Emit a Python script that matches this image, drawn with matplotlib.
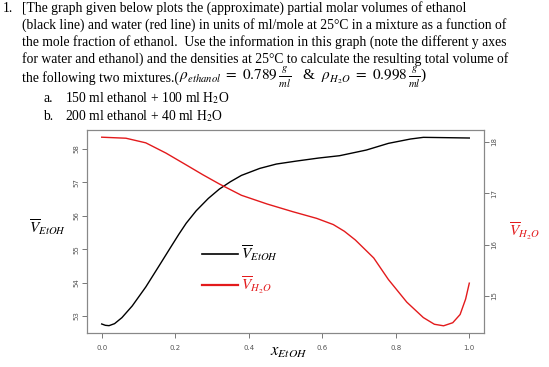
import matplotlib
matplotlib.use("Agg")
import matplotlib.pyplot as plt
from matplotlib.lines import Line2D

plt.rcParams["mathtext.fontset"] = "stix"
plt.rcParams["font.family"] = ["Liberation Serif", "DejaVu Serif"]

# values
x_etoh = [0.00, 0.01, 0.02, 0.035, 0.055, 0.083, 0.12, 0.156, 0.19, 0.21, 0.23,
          0.257, 0.29, 0.32, 0.35, 0.38, 0.43, 0.475, 0.53, 0.59, 0.647,
          0.72, 0.78, 0.84, 0.875, 0.94, 1.00]
v_etoh = [52.76, 52.72, 52.71, 52.77, 52.95, 53.30, 53.87, 54.50, 55.10, 55.45, 55.78,
          56.15, 56.52, 56.80, 57.02, 57.21, 57.42, 57.55, 57.64, 57.73, 57.80,
          57.97, 58.17, 58.30, 58.35, 58.34, 58.33]

x_h2o = [0.00, 0.066, 0.12, 0.175, 0.23, 0.275, 0.32, 0.38, 0.45, 0.52,
         0.585, 0.63, 0.66, 0.69, 0.74, 0.78, 0.83, 0.875, 0.905, 0.93, 0.955,
         0.975, 0.99, 1.00]
v_h2o = [18.09, 18.07, 17.98, 17.78, 17.55, 17.36, 17.18, 16.96, 16.79, 16.64,
         16.51, 16.39, 16.26, 16.09, 15.74, 15.32, 14.88, 14.58, 14.45, 14.42, 14.48,
         14.64, 14.94, 15.25]

x_ticks = [0.0, 0.2, 0.4, 0.6, 0.8, 1.0]
left_ticks = [53, 54, 55, 56, 57, 58]
right_ticks = [15, 16, 17, 18]

header_lines = [
    "[The graph given below plots the (approximate) partial molar volumes of ethanol",
    "(black line) and water (red line) in units of ml/mole at 25\u00b0C in a mixture as a function of",
    "the mole fraction of ethanol.  Use the information in this graph (note the different y axes",
    "for water and ethanol) and the densities at 25\u00b0C to calculate the resulting total volume of",
    "the following two mixtures.(",
]
density_text = r"$\rho_{ethanol}\ =\ 0.789\,\frac{g}{ml}$   &  $\rho_{H_2O}\ =\ 0.998\,\frac{g}{ml}$)"
sub_items = [("a.", "150 ml ethanol + 100 ml H$_2$O"),
             ("b.", "200 ml ethanol + 40 ml H$_2$O")]

RED = "#e31a1c"
GREY = "#555555"
W, H = 549, 367
FS = 9.8

fig = plt.figure(figsize=(W / 100, H / 100), dpi=100)

# question text above the chart
line_y = [8, 25, 42, 59, 78, 98, 116]
fig.text(3 / W, 1 - line_y[0] / H, "1.", fontsize=FS, va="center")
last = None
for y, txt in zip(line_y, header_lines):
    last = fig.text(22 / W, 1 - y / H, txt, fontsize=FS, va="center")
renderer = fig.canvas.get_renderer()
end_x = last.get_window_extent(renderer).x1
fig.text(end_x / W, 1 - line_y[4] / H, density_text, fontsize=FS + 1.2, va="center")
for y, (lab, txt) in zip(line_y[5:], sub_items):
    fig.text(43 / W, 1 - y / H, lab, fontsize=FS, va="center")
    fig.text(65 / W, 1 - y / H, txt, fontsize=FS, va="center")

ax = fig.add_axes([87 / W, 1 - 333 / H, (484 - 87) / W, (333 - 130) / H])
ax2 = ax.twinx()

ax.plot(x_etoh, v_etoh, color="black", linewidth=1.0)
ax2.plot(x_h2o, v_h2o, color=RED, linewidth=1.0)

ax.set_xlim(-0.04, 1.04)
ax.set_ylim(52.49, 58.57)
ax2.set_ylim(14.28, 18.23)

ax.set_xticks(x_ticks)
ax.set_xticklabels([f"{v:.1f}" for v in x_ticks])
ax.set_yticks(left_ticks)
ax2.set_yticks(right_ticks)

for a in (ax, ax2):
    for s in a.spines.values():
        s.set_color("#888888")
        s.set_linewidth(0.8)
    a.tick_params(direction="out", length=3.5, width=0.7, color="#777777",
                  labelsize=5, labelcolor=GREY, pad=2)
    for lab in a.get_yticklabels():
        lab.set_rotation(90)
        lab.set_va("center")
        lab.set_family("DejaVu Sans")
for lab in ax.get_xticklabels():
    lab.set_family("DejaVu Sans")
ax.tick_params(axis="x", pad=5)

# axis titles
fig.text(47 / W, 1 - 227 / H, r"$\overline{V}_{EtOH}$", fontsize=11,
         ha="center", va="center")
fig.text(524 / W, 1 - 231 / H, r"$\overline{V}_{H_2O}$", fontsize=11,
         ha="center", va="center", color=RED)
fig.text(289 / W, 1 - 352 / H, r"$x_{EtOH}$", fontsize=12,
         ha="center", va="center")

handles = [Line2D([0], [0], color="black", linewidth=1.2, label=r"$\overline{V}_{EtOH}$"),
           Line2D([0], [0], color=RED, linewidth=1.6, label=r"$\overline{V}_{H_2O}$")]
ax.legend(handles=handles, loc="upper left", bbox_to_anchor=(0.27, 0.48),
          frameon=False, fontsize=11, handlelength=2.4, handletextpad=0.15,
          labelspacing=0.75, labelcolor=["black", RED], borderpad=0)

fig.savefig("out.png", dpi=100)
